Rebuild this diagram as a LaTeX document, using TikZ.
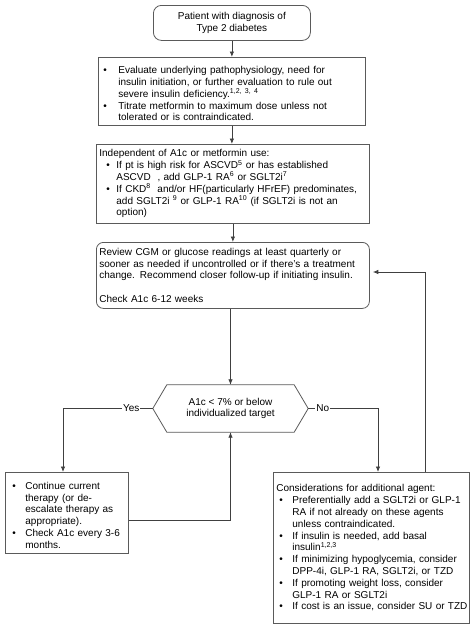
\documentclass[tikz,border=0pt]{standalone}
\usepackage{fontspec}
\setmainfont{Liberation Sans}
\usetikzlibrary{arrows.meta}
\definecolor{boxc}{HTML}{5A5A5A}
\definecolor{linec}{HTML}{404040}
\newcommand\bul[3]{\par\parshape=2 0pt \linewidth #2 \dimexpr\linewidth-#2\relax\noindent\hbox to #2{\hskip#1\textbullet\hfil}\ignorespaces#3\par}
\newcommand\lnx[1]{\mbox{#1}}
\begin{document}
\begin{tikzpicture}[x=1pt,y=-1pt,
  box/.style={draw=boxc, line width=0.8pt, anchor=north west, inner xsep=3pt, inner ysep=1pt,
    align=left, font=\fontsize{10}{11.8}\selectfont},
  conn/.style={draw=linec, line width=0.8pt},
  arr/.style={conn, -{Latex[length=5.5pt,width=4.5pt]}},
  lab/.style={fill=white, inner sep=1pt, font=\fontsize{10}{12}\selectfont}]
\useasboundingbox (0,0) rectangle (474,629);
\fill[white] (0,0) rectangle (474,629);

\node[box, rounded corners=8pt, align=center, minimum width=157pt, minimum height=35pt] (start) at (153,5)
  {Patient with diagnosis of\\Type 2 diabetes};

\node[box, text width=261pt, minimum height=68pt] (box2) at (98,57) {%
\bul{2pt}{17pt}{\lnx{Evaluate underlying pathophysiology, need for}\newline\lnx{insulin initiation, or further evaluation to rule out}\newline\lnx{severe insulin deficiency.\textsuperscript{1,2, 3, 4}}}%
\bul{2pt}{17pt}{\lnx{Titrate metformin to maximum dose unless not}\newline\lnx{tolerated or is contraindicated.}}};

\node[box, text width=267pt, minimum height=79pt] (box3) at (96,144) {%
\lnx{Independent of A1c or metformin use:}%
\bul{7pt}{17pt}{\lnx{If pt is high risk for ASCVD\textsuperscript{5} or has established}\newline\lnx{ASCVD\ \ , add GLP-1 RA\textsuperscript{6} or SGLT2i\textsuperscript{7}}}%
\bul{7pt}{17pt}{\lnx{If CKD\textsuperscript{8}\ \ and/or HF(particularly HFrEF) predominates,}\newline\lnx{add SGLT2i \textsuperscript{9} or GLP-1 RA\textsuperscript{10} (if SGLT2i is not an}\newline\lnx{option)}}};

\node[box, rounded corners=7pt, text width=267pt, minimum height=66pt] (box4) at (96,242) {%
\lnx{Review CGM or glucose readings at least quarterly or}\\
\lnx{sooner as needed if uncontrolled or if there's a treatment}\\
\lnx{change. Recommend closer follow-up if initiating insulin.}\\[11.8pt]
\lnx{Check A1c 6-12 weeks}};

\node[font=\fontsize{10}{11.8}\selectfont, align=center, minimum width=155pt, minimum height=47pt, inner sep=0pt]
  (hex) at (230.5,408.5) {A1c < 7\% or below\\individualized target};
\draw[draw=boxc, line width=0.8pt] (hex.west) -- ([xshift=14pt]hex.north west) -- ([xshift=-14pt]hex.north east)
  -- (hex.east) -- ([xshift=-14pt]hex.south east) -- ([xshift=14pt]hex.south west) -- cycle;

\node[box, text width=117pt, minimum height=81pt] (left) at (5,472) {%
\bul{4pt}{17pt}{\lnx{Continue current}\newline\lnx{therapy (or de-}\newline\lnx{escalate therapy as}\newline\lnx{appropriate).}}%
\bul{4pt}{17pt}{\lnx{Check A1c every 3-6}\newline\lnx{months.}}};

\node[box, text width=190pt, minimum height=151pt] (right) at (273,472) {%
\lnx{Considerations for additional agent:}%
\bul{3pt}{16pt}{\lnx{Preferentially add a SGLT2i or GLP-1}\newline\lnx{RA if not already on these agents}\newline\lnx{unless contraindicated.}}%
\bul{3pt}{16pt}{\lnx{If insulin is needed, add basal}\newline\lnx{insulin\textsuperscript{1,2,3}}}%
\bul{3pt}{16pt}{\lnx{If minimizing hypoglycemia, consider}\newline\lnx{DPP-4i, GLP-1 RA, SGLT2i, or TZD}}%
\bul{3pt}{16pt}{\lnx{If promoting weight loss, consider}\newline\lnx{GLP-1 RA or SGLT2i}}%
\bul{3pt}{16pt}{\lnx{If cost is an issue, consider SU or TZD}}};

\coordinate (yc) at (63,408.5);
\coordinate (nc) at (378,408.5);
\coordinate (rc) at (425,272);
\coordinate (lc) at (230.5,520);

\draw[arr] (start.south) -- (start.south |- box2.north);
\draw[arr] (box2.south) -- (box2.south |- box3.north);
\draw[arr] (box3.south) -- (box3.south |- box4.north);
\draw[arr] (box4.south -| hex.north) -- (hex.north);
\draw[arr] (hex.west) -- node[lab, pos=0.24] {Yes} (yc) -- (yc |- left.north);
\draw[arr] (hex.east) -- node[lab, pos=0.21] {No} (nc) -- (nc |- right.north);
\draw[arr, shorten >=3pt] (rc |- right.north) -- (rc) -- (rc -| box4.east);
\draw[arr] (lc -| left.east) -- (lc) -- (hex.south);
\end{tikzpicture}
\end{document}
